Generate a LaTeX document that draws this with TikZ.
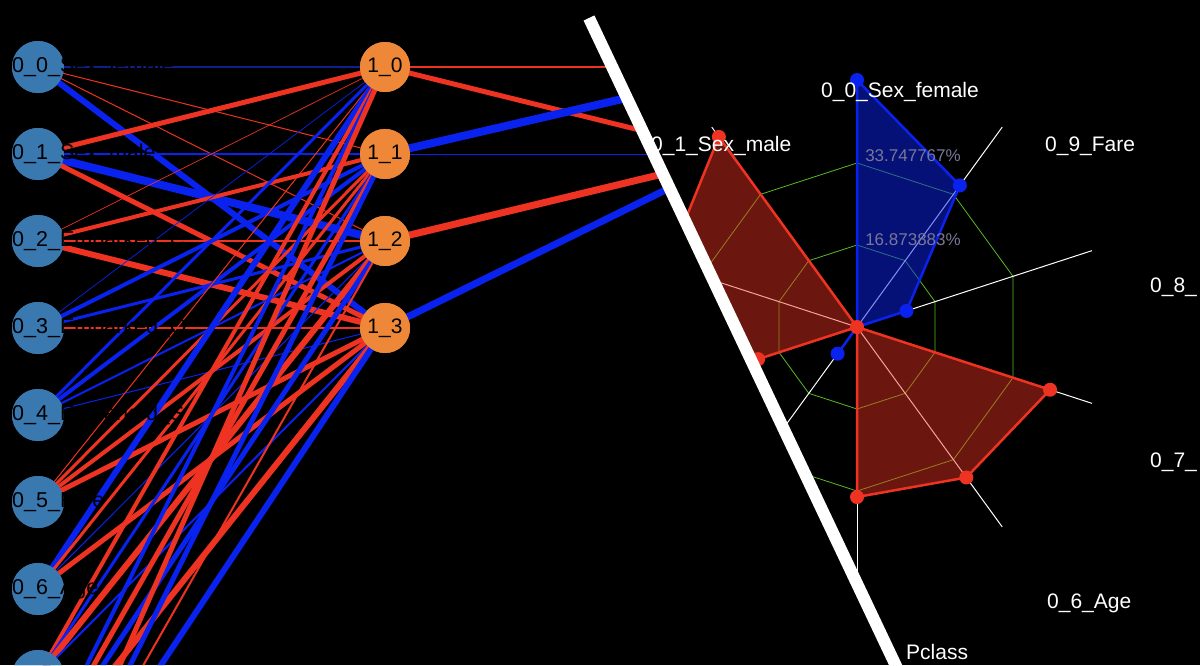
\documentclass[tikz,border=0pt]{standalone}
\usepackage{fontspec}
\setmainfont{Liberation Sans}
\begin{document}
\begin{tikzpicture}[x=1pt,y=-1pt,
  inp/.style={circle,fill=inblue,minimum size=52pt,inner sep=0pt},
  hid/.style={circle,fill=hidorange,minimum size=50pt,inner sep=0pt,font=\fontsize{21}{21}\selectfont},
  lbl/.style={anchor=west,inner sep=0pt,font=\fontsize{21.5}{22}\selectfont,text=black},
  rl/.style={anchor=west,inner sep=0pt,font=\fontsize{21}{21}\selectfont,text=white},
  ring/.style={draw=ringgreen,line width=0.8pt},
  ax/.style={draw=white,line width=1pt},
  dot/.style={circle,inner sep=0pt,minimum size=14pt}]
\definecolor{inblue}{HTML}{3A78B0}
\definecolor{hidorange}{HTML}{EE8838}
\definecolor{wr}{HTML}{EE3322}
\definecolor{wb}{HTML}{0A22EE}
\definecolor{wn}{HTML}{10208A}
\definecolor{ringgreen}{HTML}{55BB22}
\definecolor{pct}{HTML}{777799}
\fill[black] (0,0) rectangle (1200,665);
\useasboundingbox (0,0) rectangle (1200,665);
% ---------- radar (right of the dividing line)
\begin{scope}
\clip (580,0) -- (1200,0) -- (1200,665) -- (895,665) -- cycle;
\coordinate (C) at (857,327);
\begin{scope}[shift={(857,327)}]
\draw[ring] (-90:82) \foreach \k in {1,...,9}{ -- (36*\k-90:82)} -- cycle;
\draw[ring] (-90:164) \foreach \k in {1,...,9}{ -- (36*\k-90:164)} -- cycle;
\foreach \k in {0,...,9}{\draw[ax] (0,0) -- (36*\k-90:247);}
\filldraw[draw=wr,fill=wr,fill opacity=0.45,line width=2.5pt,line join=round]
 (0,0) -- (18:203) -- (54:186) -- (90:170) -- (0,0) -- (162:104) -- (198:200) -- (234:235) -- cycle;
\filldraw[draw=wb,fill=wb,fill opacity=0.5,line width=2.5pt,line join=round]
 (-90:247) -- (-54:175) -- (-18:52) -- (0,0) -- cycle;
\draw[wb,line width=2.5pt] (0,0) -- (126:33);
\foreach \p in {{(18:203)},{(54:186)},{(90:170)},{(162:104)},{(198:200)},{(234:235)},{(0,0)}}
  \node[dot,fill=wr] at \p {};
\foreach \p in {{(-90:247)},{(-54:175)},{(-18:52)},{(126:33)}}
  \node[dot,fill=wb] at \p {};
\end{scope}
\node[anchor=center,font=\fontsize{17}{17}\selectfont,text=pct] (p1) at (913,156) {33.747767\%};
\node[anchor=center,font=\fontsize{17}{17}\selectfont,text=pct] (p2) at (913,240) {16.873883\%};
\node[rl] (r0) at (821,92) {0\_0\_Sex\_female};
\node[rl] (r9) at (1045,146) {0\_9\_Fare};
\node[rl] (r8) at (1150,287) {0\_8\_};
\node[rl] (r7) at (1150,462) {0\_7\_};
\node[rl] (r6) at (1047,603) {0\_6\_Age};
\node[rl] (r5) at (906,652) {Pclass};
\node[rl] (r1) at (651,146) {0\_1\_Sex\_male};
\end{scope}
% ---------- network (left of the dividing line)
\begin{scope}
\clip (0,0) -- (580,0) -- (895,665) -- (0,665) -- cycle;
\foreach \i in {0,...,9}{\node[inp] (i\i) at (38,67+87*\i) {};}
\foreach \j in {0,...,3}{\node[hid] (h\j) at (385,67+87*\j) {};}
\coordinate (o0) at (700,67);
\coordinate (o1) at (700,145);
\coordinate (o2) at (700,81);
\coordinate (o3) at (700,154);
\coordinate (o4) at (700,165);
\coordinate (o5) at (700,173);
\foreach \i/\j/\c/\w in {
 0/0/wn/1.5, 0/1/wr/1, 0/2/wr/1, 0/3/wb/6,
 1/0/wr/5, 1/1/wb/2, 1/2/wb/8, 1/3/wr/5,
 2/0/wr/0.7, 2/1/wr/4, 2/2/wr/2, 2/3/wr/6,
 3/0/wb/0.7, 3/1/wb/4, 3/2/wb/3, 3/3/wr/2,
 4/0/wb/3, 4/1/wb/4, 4/2/wb/2, 4/3/wb/1,
 5/0/wr/1, 5/1/wr/3, 5/2/wr/4, 5/3/wr/5,
 6/0/wb/6, 6/1/wr/3, 6/2/wb/1, 6/3/wr/5,
 7/0/wr/4, 7/1/wb/3, 7/2/wr/6, 7/3/wb/2,
 8/0/wb/4, 8/1/wr/5, 8/2/wb/5, 8/3/wr/6,
 9/0/wr/5, 9/1/wb/5, 9/2/wr/2, 9/3/wb/6}
 {\draw[\c,line width=\w pt] (i\i.center) -- (h\j.center);}
\draw[wr,line width=1.4pt] (h0.center) -- (o0);
\draw[wr,line width=5pt] (h0.center) -- (o1);
\draw[wb,line width=8pt] (h1.center) -- (o2);
\draw[wb,line width=1pt] (h1.center) -- (o3);
\draw[wr,line width=7pt] (h2.center) -- (o4);
\draw[wb,line width=7pt] (h3.center) -- (o5);
\foreach \i in {0,...,9}{\node[inp] at (i\i) {};}
\foreach \j in {0,...,3}{\node[hid] at (h\j) {1\_\j};}
\foreach \i/\t in {0/Sex\_female,1/Sex\_male,2/Embarked\_C,3/Embarked\_Q,4/Embarked\_S,5/Fare,6/Age}
  {\node[lbl] (t\i) at (12,67+87*\i) {0\_\i\_\t};}
\end{scope}
% ---------- dividing line
\coordinate (d0) at (589,18);
\coordinate (d1) at (897,668);
\draw[white,line width=12pt] (d0) -- (d1);
\end{tikzpicture}
\end{document}
